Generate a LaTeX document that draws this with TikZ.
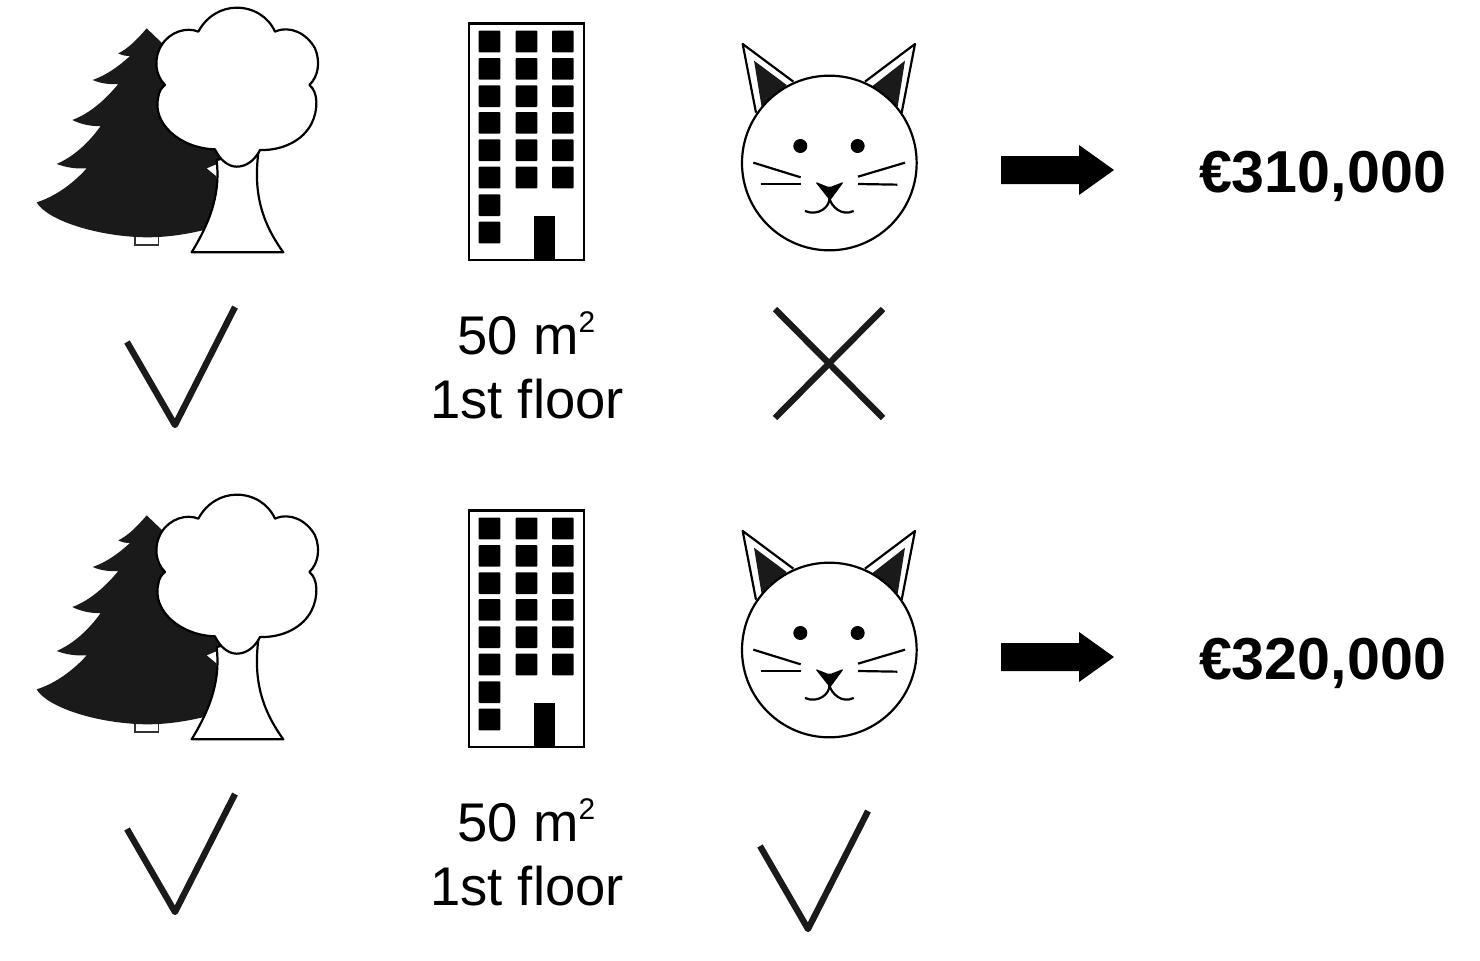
\documentclass[tikz,border=0pt]{standalone}
\usepackage{fontspec}
\setmainfont{Liberation Sans}
\usepackage{xcolor}
\definecolor{myblack}{HTML}{1A1A1A}
\tikzset{
	thinline/.style={line width=1.25pt, line join=round},
	tickline/.style={line width=3.6pt, line join=round, color=myblack},
	mylabel/.style={font=\fontsize{31}{36.8}\selectfont, anchor=base, inner sep=0pt},
	myprice/.style={font=\fontsize{33.7}{40}\selectfont\bfseries, inner sep=0pt},
	pics/trees/.style={code={
		\begin{scope}[shift={(20,0)}, scale=1/3]
			\draw [black!80, line width=.8pt, fill=white] (345,705) rectangle (415,735);
			\fill [myblack] (380,85) .. controls (350,120) and (325,145) .. (295,160) .. controls (305,166) and (318,168) .. (330,168)
				.. controls (295,200) and (260,225) .. (218,240) .. controls (240,250) and (270,254) .. (295,252)
				.. controls (255,300) and (210,340) .. (157,360) .. controls (180,372) and (215,380) .. (242,378)
				.. controls (205,430) and (160,470) .. (110,492) .. controls (140,503) and (170,507) .. (200,505)
				.. controls (160,550) and (105,590) .. (50,607) .. controls (80,660) and (230,710) .. (380,712)
				.. controls (450,712) and (520,700) .. (590,680) -- (590,530) -- (560,505) -- (620,480) -- (500,200) -- cycle;
			\draw [thinline, fill=white] (590,480) .. controls (600,570) and (580,650) .. (515,757) -- (790,757)
				.. controls (720,660) and (700,570) .. (716,450) -- cycle;
			\draw [thinline, fill=white] (585,448) .. controls (480,445) and (395,370) .. (415,290) .. controls (417,275) and (425,262) .. (435,255)
				.. controls (405,225) and (400,175) .. (425,135) .. controls (450,95) and (500,80) .. (535,95)
				.. controls (560,48) and (605,23) .. (650,23) .. controls (700,23) and (745,50) .. (765,95)
				.. controls (810,75) and (860,100) .. (885,145) .. controls (902,185) and (895,230) .. (868,255)
				.. controls (895,275) and (895,330) .. (875,370) .. controls (850,420) and (790,452) .. (720,450)
				.. controls (705,480) and (680,500) .. (650,500) .. controls (625,500) and (600,480) .. (585,448) -- cycle;
		\end{scope}
	}},
	pics/building/.style={code={
		\begin{scope}[shift={(450,10)}, scale=1/3]
			\draw [line width=1.6pt] (57,40) rectangle (402,750);
			\foreach \myrow in {62,144,226,306,388,470} {
				\foreach \mycol in {86,197,306} {
					\fill [rounded corners=.5pt] (\mycol,\myrow) rectangle ++(65,65);
				}
			}
			\foreach \myrow in {553,635} {
				\fill [rounded corners=.5pt] (86,\myrow) rectangle ++(65,65);
			}
			\fill (252,617) rectangle (315,752);
		\end{scope}
	}},
	pics/cat/.style={code={
		\begin{scope}[shift={(730,30)}, scale=1/3]
			\draw [thinline, fill=white] (78,248) -- (38,42) -- (190,155);
			\draw [thinline, fill=white] (515,248) -- (555,42) -- (405,155);
			\fill [myblack] (72,92) -- (170,165) -- (95,232) -- cycle;
			\fill [myblack] (525,92) -- (425,170) -- (503,230) -- cycle;
			\draw [thinline] (298,399) circle (262);
			\fill (211,348) circle (21);
			\fill (383,348) circle (21);
			\draw [thinline] (70,398) -- (212,442);
			\draw [thinline] (92,463) -- (212,463);
			\draw [thinline] (525,398) -- (384,440);
			\draw [thinline] (384,462) -- (502,464);
			\fill [rounded corners=1pt] (255,455) -- (298,472) -- (342,455) -- (300,512) -- cycle;
			\draw [thinline] (298,505) .. controls (300,530) and (265,560) .. (225,543);
			\draw [thinline] (298,505) .. controls (305,530) and (335,560) .. (371,543);
		\end{scope}
	}},
	pics/tick/.style={code={
		\draw [tickline] (2,0) -- (50,83) -- (110,-35);
	}},
	pics/bigarrow/.style={code={
		\fill (1001,156) -- (1079,156) -- (1079,145) -- (1114,170) -- (1079,195) -- (1079,184) -- (1001,184) -- cycle;
	}}
}
\newcommand{\mysquare}{\raisebox{12.5pt}{\fontsize{17}{17}\selectfont 2}}
\begin{document}
\begin{tikzpicture}[x=0.02cm, y=-0.02cm]
	\useasboundingbox (0,0) rectangle (1480,960);
	% upper row
	\pic at (0,0) {trees};
	\pic at (0,0) {building};
	\pic at (0,0) {cat};
	\pic at (0,0) {bigarrow};
	\node [myprice] (priceA) at (1322.5,176) {€310,000};
	\pic at (125,342) {tick};
	\node [mylabel] (sizeA) at (526.5,354) {50 m\mysquare};
	\node [mylabel] (floorA) at (527,418) {1st floor};
	\draw [tickline] (775,309) -- (883,418);
	\draw [tickline] (883,309) -- (775,418);
	% lower row
	\pic at (0,487) {trees};
	\pic at (0,487) {building};
	\pic at (0,487) {cat};
	\pic at (0,487) {bigarrow};
	\node [myprice] (priceB) at (1322.5,663) {€320,000};
	\pic at (125,829) {tick};
	\node [mylabel] (sizeB) at (526.5,841) {50 m\mysquare};
	\node [mylabel] (floorB) at (527,905) {1st floor};
	\pic at (758,846) {tick};
\end{tikzpicture}
\end{document}
